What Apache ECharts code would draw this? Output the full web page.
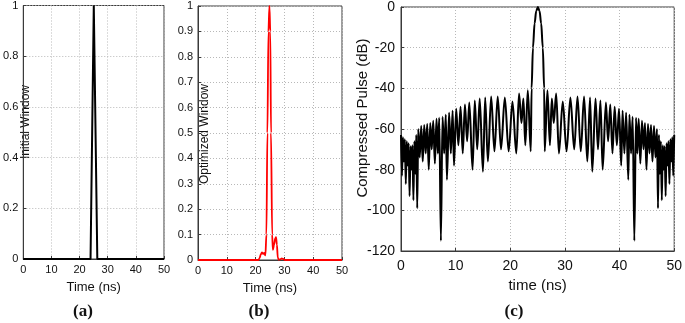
<!DOCTYPE html>
<html>
<head>
<meta charset="utf-8">
<script src="https://cdn.jsdelivr.net/npm/echarts@6/dist/echarts.min.js"></script>
<style>
html,body{margin:0;padding:0;background:#fff;}
#chart{width:685px;height:323px;}
</style>
</head>
<body>
<div id="chart"></div>
<script>
// ---- data ----
var xTicks = [0, 10, 20, 30, 40, 50];

// (a) initial window
var initialWindow = [[0,0],[23.9,0],[25.05,1],[26.3,0],[50,0]];

// (b) optimized window
var optimizedWindow = [
  [0,0],[21,0],[21.4,0.008],[21.8,0.022],[22.2,0.03],[22.6,0.024],[23.0,0.028],[23.4,0.018],
  [23.75,0.1],[24.1,0.5],[24.45,0.9],[24.8,1.0],[25.1,0.9],[25.35,0.5],[25.75,0.1],
  [26.0,0.04],[26.4,0.06],[26.8,0.085],[27.1,0.09],[27.4,0.06],[27.7,0.01],[28.0,0.001],
  [28.6,0.003],[29.1,0.006],[29.6,0.004],[30.2,0],[50,0]
];

// (c) compressed pulse (dB): left sidelobes, main lobe, right sidelobes
var pulseLeft = [
  [0,-63],[0.18,-83],[0.35,-64],[0.52,-76],[0.7,-65],[0.88,-87],[1.05,-66],[1.22,-78],
  [1.4,-67],[1.57,-93],[1.75,-68.5],[1.92,-80],[2.1,-68],[2.27,-95],[2.45,-66],[2.62,-82],
  [2.8,-63],[2.97,-99],[3.15,-60],[3.42,-74],[3.7,-58.5],[3.98,-76],[4.25,-58],[4.52,-72],
  [4.8,-57.5],[5.08,-80],[5.35,-57],[5.62,-70],[5.9,-56],[6.2,-77],[6.5,-55],[6.75,-72],
  [7.0,-54.5],[7.3,-115],[7.6,-54],[7.9,-72],[8.2,-53],[8.4,-85],[8.8,-52],[9.12,-72],
  [9.45,-51],[9.7,-78],[10.1,-50],[10.5,-68],[10.9,-49],[11.3,-72],[11.7,-48],[12.1,-66],
  [12.5,-47],[13.1,-80],[13.5,-46],[13.95,-70],[14.4,-45],[15.0,-81],[15.4,-44.5],[15.9,-76],
  [16.5,-44],[17.1,-71],[17.7,-44],[18.3,-70],[19.0,-44.5],[19.7,-71],[20.4,-46.5],[21.1,-72],
  [21.6,-42.5],[22.05,-57],[22.4,-45],[22.75,-68],[23.2,-41],[23.75,-71]
];
var pulseMain = [
  [23.9,-40],[24.15,-20],[24.45,-8],[24.75,-2],[25.05,0],[25.35,-2],[25.65,-8],[25.95,-20],[26.2,-40]
];
var pulseRight = [
  [26.3,-71],[26.8,-41],[27.25,-68],[27.6,-45],[27.95,-57],[28.4,-42.5],[28.9,-72],[29.6,-46.5],
  [30.3,-71],[31.0,-44.5],[31.7,-70],[32.3,-44],[32.9,-71],[33.5,-44],[34.1,-76],[34.6,-44.5],
  [35.0,-81],[35.6,-45],[36.05,-70],[36.5,-46],[36.9,-80],[37.5,-47],[37.9,-66],[38.3,-48],
  [38.7,-72],[39.1,-49],[39.5,-68],[39.9,-50],[40.3,-78],[40.55,-51],[40.88,-72],[41.2,-52],
  [41.6,-85],[41.8,-53],[42.1,-72],[42.4,-54],[42.7,-115],[43.0,-54.5],[43.25,-72],[43.5,-55],
  [43.8,-77],[44.1,-56],[44.38,-70],[44.65,-57],[44.92,-80],[45.2,-57.5],[45.48,-72],[45.75,-58],
  [46.02,-76],[46.3,-58.5],[46.58,-74],[46.85,-60],[47.03,-99],[47.2,-63],[47.38,-82],[47.55,-66],
  [47.73,-95],[47.9,-68],[48.08,-80],[48.25,-68.5],[48.43,-93],[48.6,-67],[48.78,-78],[48.95,-66],
  [49.12,-87],[49.3,-65],[49.48,-76],[49.65,-64],[49.82,-83],[50,-63]
];

// ---- chart ----
var chart = echarts.init(document.getElementById('chart'), null, {renderer: 'canvas'});
var FONT = 'Liberation Sans, Arial, sans-serif';
var frame = '#3a3a3a';
function xAx(idx, fs, margin, nameGap, nameFs, name) {
  return {
    gridIndex: idx, type: 'value', min: 0, max: 50, interval: 10,
    name: name, nameLocation: 'middle', nameGap: nameGap,
    nameTextStyle: {fontFamily: FONT, fontSize: nameFs, color: '#111'},
    axisLine: {show: true, onZero: false, lineStyle: {color: frame, width: 1}},
    axisTick: {show: true, inside: true, length: 3, lineStyle: {color: frame}},
    axisLabel: {fontFamily: FONT, fontSize: fs, color: '#111', margin: margin},
    splitLine: {show: true, lineStyle: {color: '#b8b8b8', type: [1, 2], width: 1}}
  };
}
function yAx(idx, min, max, interval, fs, margin) {
  return {
    gridIndex: idx, type: 'value', min: min, max: max, interval: interval,
    axisLine: {show: true, onZero: false, lineStyle: {color: frame, width: 1}},
    axisTick: {show: true, inside: true, length: 3, lineStyle: {color: frame}},
    axisLabel: {fontFamily: FONT, fontSize: fs, color: '#111', margin: margin,
      formatter: function (v) { return String(Math.round(v * 1000) / 1000); }},
    splitLine: {show: true, lineStyle: {color: '#b8b8b8', type: [1, 2], width: 1}}
  };
}

var option = {
  animation: false,
  backgroundColor: '#fff',
  grid: [
    {left: 19, top: 5, width: 145, height: 254, show: true, borderColor: frame, borderWidth: 1, backgroundColor: 'transparent'},
    {left: 198, top: 6, width: 144, height: 254, show: true, borderColor: frame, borderWidth: 1, backgroundColor: 'transparent'},
    {left: 401, top: 7, width: 274, height: 244, show: true, borderColor: frame, borderWidth: 1, backgroundColor: 'transparent'}
  ],
  xAxis: [
    xAx(0, 11, 5, 22, 13, 'Time (ns)'),
    xAx(1, 11, 5, 22, 13, 'Time (ns)'),
    xAx(2, 14, 8, 25, 15, 'time (ns)')
  ],
  yAxis: [
    yAx(0, 0, 1, 0.2, 11, 5),
    yAx(1, 0, 1, 0.1, 11, 5),
    yAx(2, -120, 0, 20, 14, 6)
  ],
  graphic: [
    {type: 'text', x: 26, y: 122, rotation: Math.PI / 2,
      style: {text: 'Initial Window', font: '12px ' + FONT, fill: '#111', textAlign: 'center', textVerticalAlign: 'middle'}},
    {type: 'text', x: 205, y: 134, rotation: Math.PI / 2,
      style: {text: 'Optimized Window', font: '12px ' + FONT, fill: '#111', textAlign: 'center', textVerticalAlign: 'middle'}},
    {type: 'text', x: 363, y: 118, rotation: Math.PI / 2,
      style: {text: 'Compressed Pulse (dB)', font: '15px ' + FONT, fill: '#111', textAlign: 'center', textVerticalAlign: 'middle'}},
    {type: 'text', x: 83, y: 312,
      style: {text: '(a)', font: 'bold 17px Liberation Serif, Times New Roman, serif', fill: '#111', textAlign: 'center', textVerticalAlign: 'middle'}},
    {type: 'text', x: 259, y: 312,
      style: {text: '(b)', font: 'bold 17px Liberation Serif, Times New Roman, serif', fill: '#111', textAlign: 'center', textVerticalAlign: 'middle'}},
    {type: 'text', x: 514, y: 312,
      style: {text: '(c)', font: 'bold 17px Liberation Serif, Times New Roman, serif', fill: '#111', textAlign: 'center', textVerticalAlign: 'middle'}}
  ],
  series: [
    {type: 'line', xAxisIndex: 0, yAxisIndex: 0, data: initialWindow, showSymbol: false,
      lineStyle: {color: '#000', width: 2}, z: 3},
    {type: 'line', xAxisIndex: 1, yAxisIndex: 1, data: optimizedWindow, showSymbol: false,
      smooth: 0.3, smoothMonotone: 'x',
      lineStyle: {color: '#ff0000', width: 1.8}, z: 3},
    {type: 'line', xAxisIndex: 2, yAxisIndex: 2, data: pulseLeft.concat(pulseMain, pulseRight), showSymbol: false,
      smooth: 0.35, smoothMonotone: 'x',
      lineStyle: {color: '#000', width: 2}, z: 3}
  ]
};
chart.setOption(option);
</script>
</body>
</html>
